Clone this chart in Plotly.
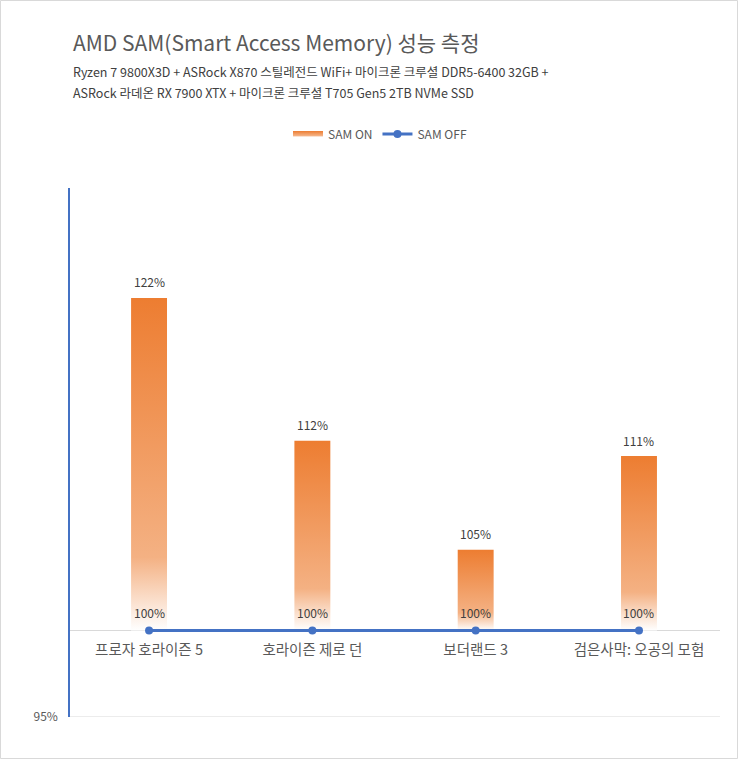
import math
import plotly.graph_objects as go

categories = ["프로자 호라이즌 5", "호라이즌 제로 던", "보더랜드 3", "검은사막: 오공의 모험"]
sam_on = [121.8, 111.9, 104.9, 110.9]
sam_off = [100, 100, 100, 100]
y_min, y_max = 95, 130
bar_half = 0.11

W, H = 738, 759
ML, MR, MT, MB = 70, 18, 188, 42
PW, PH = W - ML - MR, H - MT - MB

def px_x(px):
    return (px - ML) / PW

def px_y(py):
    return (H - MB - py) / PH

FONT = "Noto Sans CJK KR, Noto Sans, sans-serif"
ORANGE = "#ED7D31"
BLUE = "#4472C4"

fig = go.Figure()
xs = list(range(len(categories)))
grad = [[0, "rgba(255,255,255,1)"], [0.22, "#F4B183"], [1, ORANGE]]
for i, v in enumerate(sam_on):
    fig.add_trace(go.Scatter(
        x=[i - bar_half, i + bar_half, i + bar_half, i - bar_half, i - bar_half],
        y=[100, 100, v, v, 100],
        mode="none", fill="toself",
        fillgradient=dict(type="vertical", colorscale=grad),
        name="SAM ON", legendgroup="on", showlegend=(i == 0),
        hoverinfo="skip",
    ))

fig.add_trace(go.Scatter(
    x=xs, y=sam_off, mode="lines+markers", name="SAM OFF",
    line=dict(color=BLUE, width=3),
    marker=dict(size=8, color=BLUE),
))

label_font = dict(size=12, color="#404040", family=FONT)
annotations = []
for i, v in enumerate(sam_on):
    annotations.append(dict(x=i, y=math.log10(v), xref="x", yref="y", text=f"{v:.0f}%",
                            showarrow=False, yanchor="middle", yshift=16, font=label_font))
for i, v in enumerate(sam_off):
    annotations.append(dict(x=i, y=math.log10(v), xref="x", yref="y", text=f"{v:.0f}%",
                            showarrow=False, yanchor="middle", yshift=18, font=label_font))

annotations += [
    dict(text="AMD SAM(Smart Access Memory) 성능 측정", xref="paper", yref="paper",
         x=px_x(71), y=px_y(42), xanchor="left", yanchor="middle", showarrow=False,
         font=dict(size=21, color="#595959")),
    dict(text="Ryzen 7 9800X3D + ASRock X870 스틸레전드 WiFi+ 마이크론 크루셜 DDR5-6400 32GB +",
         xref="paper", yref="paper", x=px_x(71), y=px_y(71), xanchor="left",
         yanchor="middle", showarrow=False, font=dict(size=12.5, color="#404040")),
    dict(text="ASRock 라데온 RX 7900 XTX + 마이크론 크루셜 T705 Gen5 2TB NVMe SSD",
         xref="paper", yref="paper", x=px_x(71), y=px_y(92), xanchor="left",
         yanchor="middle", showarrow=False, font=dict(size=12.5, color="#404040")),
]

fig.update_layout(
    width=W, height=H,
    margin=dict(l=ML, r=MR, t=MT, b=MB),
    paper_bgcolor="white", plot_bgcolor="white",
    font=dict(family=FONT, color="#595959"),
    showlegend=True,
    legend=dict(orientation="h", x=px_x(380), xanchor="center",
                y=px_y(134), yanchor="middle",
                font=dict(size=12, color="#595959"), traceorder="normal"),
    xaxis=dict(
        range=[-0.484, 3.496], tickvals=xs, ticktext=categories,
        showgrid=False, zeroline=False, showline=False,
        anchor="free", position=px_y(630), ticks="",
        ticklabelstandoff=9,
        tickfont=dict(size=14.5, color="#595959"),
    ),
    yaxis=dict(
        type="log", range=[math.log10(y_min), math.log10(y_max)],
        tickvals=[y_min, y_max], ticktext=["95%", ""],
        showgrid=False, zeroline=False,
        showline=True, linecolor=BLUE, linewidth=1.5,
        ticks="inside", ticklen=5, tickcolor=BLUE, tickwidth=1.5,
        ticklabelstandoff=8,
        tickfont=dict(size=12, color="#595959"),
    ),
    shapes=[
        dict(type="line", xref="paper", yref="y", x0=0, x1=1, y0=100, y1=100,
             line=dict(color="#D9D9D9", width=1), layer="below"),
        dict(type="line", xref="paper", yref="y", x0=0, x1=1, y0=y_min, y1=y_min,
             line=dict(color="#D9D9D9", width=1), layer="below"),
        dict(type="rect", xref="paper", yref="paper",
             x0=px_x(0.5), x1=px_x(W - 0.5), y0=px_y(H - 0.5), y1=px_y(0.5),
             line=dict(color="#D9D9D9", width=1)),
    ],
    annotations=annotations,
)

fig.write_html("out.html", config={"displayModeBar": False},
               post_script="document.body.style.margin='0';")
